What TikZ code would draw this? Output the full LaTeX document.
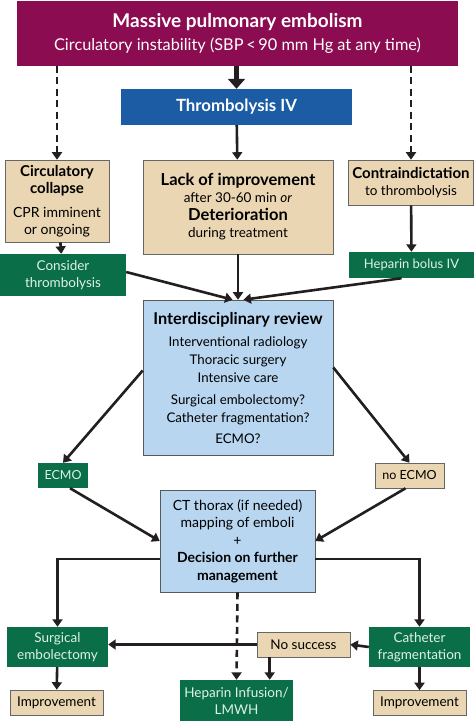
\documentclass[tikz,border=0pt]{standalone}
\usepackage{fontspec}
\setmainfont{Lato}
\definecolor{EmbMaroon}{RGB}{140,12,82}
\definecolor{LysisBlue}{RGB}{28,92,165}
\definecolor{BoxTan}{RGB}{234,214,178}
\definecolor{BoxGreen}{RGB}{10,110,72}
\definecolor{BoxLightBlue}{RGB}{184,214,240}
\definecolor{GreenText}{RGB}{222,242,230}
\definecolor{ArrowInk}{RGB}{35,31,32}
\usepackage{tikz}
\usetikzlibrary{arrows.meta, positioning, calc}
\newcommand{\headfont}{\fontsize{15}{18}\selectfont\bfseries}
\newcommand{\bigheadfont}{\fontsize{16.5}{19}\selectfont\bfseries}

\begin{document}
\begin{tikzpicture}[x=1pt,y=-1pt,
	base/.style={inner sep=0pt,align=center,font=\fontsize{13}{16}\selectfont},
	tanbox/.style={base,fill=BoxTan,draw=gray!80!black,line width=0.6pt},
	greenbox/.style={base,fill=BoxGreen,text=GreenText},
	bluebox/.style={base,fill=BoxLightBlue,draw=gray!70!black,line width=0.6pt},
	flow/.style={ArrowInk,line width=2.6pt,-{Triangle[length=7.5pt,width=10pt]}},
	maybe/.style={flow,dash pattern=on 7pt off 4.5pt}]
\useasboundingbox (0,0) rectangle (474,721);
\node[base,fill=EmbMaroon,text=white,minimum width=441,minimum height=65] (top) at (237.5,33)
	{{\fontsize{19}{22}\selectfont\bfseries Massive pulmonary embolism}\\[7pt]
	{\fontsize{16.3}{19}\selectfont Circulatory instability (SBP\,<\,90 mm Hg at any time)}};
\node[base,fill=LysisBlue,text=white,minimum width=231,minimum height=36,font=\fontsize{16.8}{19}\selectfont\bfseries] (lysis) at (236.5,107) {Thrombolysis IV};
\node[tanbox,minimum width=104,minimum height=82,font=\fontsize{14}{17}\selectfont] (collapse) at (57,201)
	{{\headfont Circulatory}\\{\headfont collapse}\\[7pt]CPR imminent\\or ongoing};
\node[tanbox,minimum width=190,minimum height=94,font=\fontsize{13.5}{17}\selectfont] (lack) at (238,207)
	{{\bigheadfont Lack of improvement}\\
	after 30-60 min \textit{or}\\[1pt]
	{\bigheadfont Deterioration}\\
	during treatment};
\node[tanbox,minimum width=125,minimum height=45,font=\fontsize{13.5}{17}\selectfont] (contra) at (411,182.5)
	{{\headfont Contraindictation}\\to thrombolysis};
\node[greenbox,minimum width=126,minimum height=42,font=\fontsize{13.5}{17}\selectfont] (consider) at (63,275) {Consider\\thrombolysis};
\node[greenbox,minimum width=125,minimum height=26] (bolus) at (411.5,265) {Heparin bolus IV};
\node[bluebox,minimum width=190,minimum height=155,font=\fontsize{13.3}{18}\selectfont] (review) at (238,377.5)
	{{\fontsize{16.3}{19}\selectfont\bfseries Interdisciplinary review}\\[4pt]
	Interventional radiology\\Thoracic surgery\\Intensive care\\[4pt]
	Surgical embolectomy?\\Catheter fragmentation?\\[3pt]
	ECMO?};
\node[greenbox,minimum width=50,minimum height=25,font=\fontsize{12.5}{14}\selectfont] (ecmo) at (63,475.5) {ECMO};
\node[tanbox,minimum width=69,minimum height=25,font=\fontsize{12.5}{14}\selectfont] (noecmo) at (409.5,475.5) {no ECMO};
\node[bluebox,minimum width=155,minimum height=102,font=\fontsize{14}{17.5}\selectfont] (ct) at (237.5,541)
	{CT thorax (if needed)\\mapping of emboli\\+\\\textbf{Decision on further}\\\textbf{management}};
\node[greenbox,minimum width=101,minimum height=40,font=\fontsize{13.5}{17}\selectfont] (surgery) at (57.5,647) {Surgical\\embolectomy};
\node[greenbox,minimum width=101,minimum height=40,font=\fontsize{13.5}{17}\selectfont] (catheter) at (419.5,647) {Catheter\\fragmentation};
\node[tanbox,minimum width=93,minimum height=25,font=\fontsize{13.5}{16}\selectfont] (nosuccess) at (303.5,644.5) {No success};
\node[greenbox,minimum width=113,minimum height=42,font=\fontsize{13.5}{17}\selectfont] (infusion) at (236.5,701) {Heparin Infusion/\\LMWH};
\node[tanbox,minimum width=93,minimum height=25,font=\fontsize{13.5}{16}\selectfont] (improveL) at (56.5,702.5) {Improvement};
\node[tanbox,minimum width=93,minimum height=25,font=\fontsize{13.5}{16}\selectfont] (improveR) at (419.5,703) {Improvement};
\coordinate (failstart) at ($(nosuccess.south west)+(13,0)$);

\draw[ArrowInk,line width=5.5pt,-{Triangle[length=10pt,width=17pt]}] (top.south -| lysis) -- (lysis.north);
\draw[maybe] (top.south -| collapse) -- (collapse.north);
\draw[maybe] (top.south -| contra) -- (contra.north);
\draw[flow] (lysis) -- (lack);
\draw[flow] (collapse) -- (consider);
\draw[flow] (contra) -- (bolus);
\draw[flow] (lack) -- (review);
\draw[flow] ($(consider.east)+(0,-3)$) -- (review.94);
\draw[flow] ($(bolus.south)+(-10,0)$) -- (review.86);
\draw[flow] ($(review.west)+(0,-7)$) -- (ecmo.north);
\draw[flow] ($(review.east)+(0,-10)$) -- (noecmo.north);
\draw[flow] ($(ecmo.south)+(7,0)$) -- (ct.west);
\draw[flow] ($(noecmo.south)+(-4,0)$) -- (ct.east);
\draw[flow] ($(ct.west)+(0,18)$) -| (surgery.north);
\draw[flow] ($(ct.east)+(0,18)$) -| (catheter.north);
\draw[maybe] (ct.south) -- (infusion.north);
\draw[flow] (catheter.west) -- (nosuccess.east);
\draw[flow] (nosuccess.west) -- (nosuccess.west -| surgery.east);
\draw[flow] (failstart) -- (failstart |- infusion.north);
\draw[flow] (surgery) -- (improveL);
\draw[flow] (catheter) -- (improveR);
\end{tikzpicture}
\end{document}
